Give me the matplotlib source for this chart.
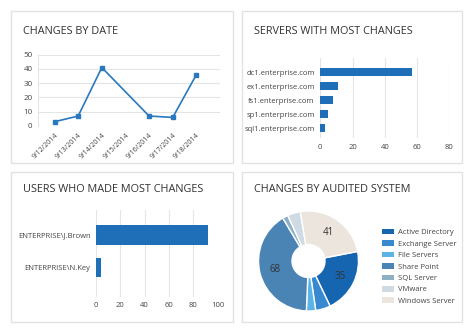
import matplotlib
matplotlib.use("Agg")
import matplotlib.pyplot as plt
from matplotlib.patches import Rectangle, Patch

plt.rcParams['font.family'] = ['Open Sans', 'DejaVu Sans']

# ---- data ----
date_ticks = ['9/12/2014', '9/13/2014', '9/14/2014', '9/15/2014',
              '9/16/2014', '9/17/2014', '9/18/2014']
change_dates = ['9/12/2014', '9/13/2014', '9/14/2014',
                '9/16/2014', '9/17/2014', '9/18/2014']
changes_per_date = [3, 7, 41, 7, 6, 36]

servers = ['dc1.enterprise.com', 'ex1.enterprise.com', 'fs1.enterprise.com',
           'sp1.enterprise.com', 'sql1.enterprise.com']
server_changes = [57, 11, 8, 5, 3]

users = ['ENTERPRISE\\J.Brown', 'ENTERPRISE\\N.Key']
user_changes = [92, 4]

systems = ['Active Directory', 'Exchange Server', 'File Servers', 'Share Point',
           'SQL Server', 'VMware', 'Windows Server']
system_changes = [35, 8, 5, 68, 3, 7, 41]
system_colors = ['#1565b0', '#3889cf', '#5ab4e5', '#4a84b5',
                 '#8db0c4', '#cfdbe4', '#ebe5de']

W, H = 474, 333
BLUE = '#1e6fb8'
GRID = '#e4e4e4'
TXT = '#333333'


def box(x0, y0, x1, y1):
    # pixel box (top-left origin) -> figure fraction rect
    return [x0 / W, 1 - y1 / H, (x1 - x0) / W, (y1 - y0) / H]


fig = plt.figure(figsize=(W / 100, H / 100), dpi=100)
fig.patch.set_facecolor('white')

# panel frames
for (x0, y0, x1, y1) in [(11, 11, 233, 163), (242, 11, 462, 163),
                         (11, 172, 233, 322), (242, 172, 462, 322)]:
    fig.add_artist(Rectangle((x0 / W, 1 - y1 / H), (x1 - x0) / W, (y1 - y0) / H,
                             transform=fig.transFigure, facecolor='white',
                             edgecolor='#e2e2e2', lw=1.0, zorder=-5))

title_kw = dict(fontsize=7.8, color=TXT, va='center', ha='left')
fig.text(23 / W, 1 - 31 / H, 'CHANGES BY DATE', **title_kw)
fig.text(254 / W, 1 - 31 / H, 'SERVERS WITH MOST CHANGES', **title_kw)
fig.text(23 / W, 1 - 189 / H, 'USERS WHO MADE MOST CHANGES', **title_kw)
fig.text(254 / W, 1 - 189 / H, 'CHANGES BY AUDITED SYSTEM', **title_kw)


def style(ax):
    for s in ax.spines.values():
        s.set_visible(False)
    ax.tick_params(length=0, labelsize=5.5, colors='#444444', pad=4)
    ax.set_facecolor('none')


# ---- changes by date ----
ax1 = fig.add_axes(box(38, 54.7, 220, 126))
style(ax1)
xs = [date_ticks.index(d) for d in change_dates]
ax1.plot(xs, changes_per_date, color='#2a78bd', lw=1.2, marker='s', ms=3.2)
ax1.set_ylim(0, 50)
ax1.set_yticks(range(0, 51, 10))
ax1.set_xlim(-0.7, 7.0)
ax1.set_xticks(range(len(date_ticks)))
ax1.set_xticklabels(date_ticks, rotation=45, ha='right', rotation_mode='anchor',
                    fontsize=5)
ax1.tick_params(axis='y', labelsize=5.8)
ax1.yaxis.grid(True, color=GRID, lw=0.8)
ax1.spines['left'].set_visible(True)
ax1.spines['left'].set_color(GRID)
ax1.set_axisbelow(True)

# ---- servers with most changes ----
ax2 = fig.add_axes(box(320.3, 58, 449.3, 138))
style(ax2)
ax2.barh(range(len(servers)), server_changes, height=0.58, color=BLUE)
ax2.set_yticks(range(len(servers)))
ax2.set_yticklabels(servers)
ax2.set_ylim(4.7, -1.0)
ax2.set_xlim(0, 80)
ax2.set_xticks(range(0, 81, 20))
ax2.xaxis.grid(True, color=GRID, lw=0.8)
ax2.set_axisbelow(True)

# ---- users who made most changes ----
ax3 = fig.add_axes(box(96, 210, 217.5, 296.7))
style(ax3)
ax3.barh(range(len(users)), user_changes, height=0.6, color=BLUE)
ax3.set_yticks(range(len(users)))
ax3.set_yticklabels(users)
ax3.set_ylim(1.92, -0.78)
ax3.set_xlim(0, 100)
ax3.set_xticks(range(0, 101, 20))
ax3.xaxis.grid(True, color=GRID, lw=0.8)
ax3.set_axisbelow(True)

# ---- changes by audited system ----
ax4 = fig.add_axes(box(257.5, 210, 359.5, 312))
wedges, _, autotexts = ax4.pie(
    system_changes, colors=system_colors, startangle=11, counterclock=False,
    radius=1.0, wedgeprops=dict(width=0.67, edgecolor='white', linewidth=1.0),
    autopct=lambda p: f'{p * sum(system_changes) / 100:.0f}' if p > 15 else '',
    pctdistance=0.7, textprops=dict(fontsize=7, color=TXT))
ax4.set_xlim(-1.02, 1.02)
ax4.set_ylim(-1.02, 1.02)

handles = [Patch(facecolor=c, edgecolor='none') for c in system_colors]
fig.legend(handles, systems, loc='upper left',
           bbox_to_anchor=(378 / W, 1 - 225 / H), frameon=False,
           fontsize=5.5, handlelength=1.6, handleheight=0.75,
           labelspacing=0.52, handletextpad=0.5, borderpad=0,
           labelcolor='#444444')

fig.savefig('out.png', dpi=100)
